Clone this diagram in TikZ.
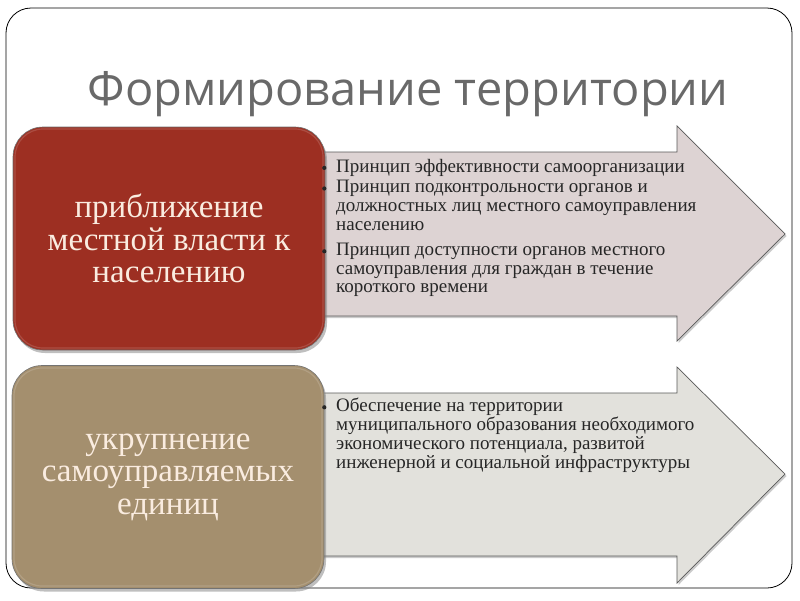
\documentclass[tikz,border=0pt]{standalone}
\usepackage{fontspec}
\setmainfont{Liberation Serif}
\newfontfamily\titlefont{Open Sans}
\usetikzlibrary{shadows}
\definecolor{redbox}{RGB}{157,47,34}
\definecolor{brownbox}{RGB}{164,143,110}
\definecolor{arrowone}{RGB}{221,211,211}
\definecolor{arrowtwo}{RGB}{226,225,220}
\definecolor{titlegray}{RGB}{105,105,105}
\definecolor{boxtext}{RGB}{250,236,224}
\tikzset{
  arrowshape/.style={draw=black!65, line width=0.7pt,
    drop shadow={shadow xshift=1.5pt, shadow yshift=-2pt, fill=black!40, opacity=0.5}},
  bigbox/.style={rounded corners=30pt, minimum width=312pt, minimum height=223pt,
    draw=black!55, line width=0.6pt, text=boxtext, align=center, inner sep=0pt,
    font=\fontsize{33}{32.5}\selectfont,
    drop shadow={shadow xshift=2pt, shadow yshift=-3pt, fill=black!50, opacity=0.5}},
  boxrim/.style={rounded corners=28pt, draw=white, line width=1.2pt, opacity=0.15},
  listtext/.style={anchor=north west, align=left, inner sep=0pt,
    font=\fontsize{19}{18.6}\selectfont, text=black!85},
}
\newcommand{\bulitem}[1]{\makebox[14pt][l]{\tikz[baseline=0pt]\fill[black!85] (3.5pt,4.5pt) circle (2.1pt);}\begin{tabular}[t]{@{}l@{}}#1\end{tabular}}
\begin{document}
\begin{tikzpicture}[x=1pt,y=-1pt]
\useasboundingbox (0,0) rectangle (800,600);
\fill[white] (0,0) rectangle (800,600);
\draw[black, line width=0.8pt, rounded corners=25pt] (6,8) rectangle (792,588);
\node[font=\titlefont\fontsize{47}{50}\selectfont, text=titlegray] (title) at (408,94) {Формирование территории};
% arrows
\path[arrowshape, fill=arrowone] (300,152) -- (677,152) -- (677,126) -- (785,234) -- (677,341) -- (677,316) -- (300,316) -- cycle;
\path[arrowshape, fill=arrowtwo] (300,393) -- (677,393) -- (677,367) -- (785,474) -- (677,583) -- (677,556) -- (300,556) -- cycle;
% boxes
\node[bigbox, fill=redbox] (box1) at (169,238.5) {приближение\\местной власти к\\населению};
\draw[boxrim] (15,129) rectangle (323,348);
\node[bigbox, fill=brownbox] (box2) at (168,477) {укрупнение\\самоуправляемых\\единиц};
\draw[boxrim] (14,368) rectangle (322,586);
% lists
\node[listtext] (list1) at (322,159) {%
\bulitem{Принцип эффективности самоорганизации}\\[2pt]
\bulitem{Принцип подконтрольности органов и\\должностных лиц местного самоуправления\\населению}\\[6pt]
\bulitem{Принцип доступности органов местного\\самоуправления для граждан в течение\\короткого времени}};
\node[listtext] (list2) at (322,398) {%
\bulitem{Обеспечение на территории\\муниципального образования необходимого\\экономического потенциала, развитой\\инженерной и социальной инфраструктуры}};
\end{tikzpicture}
\end{document}
